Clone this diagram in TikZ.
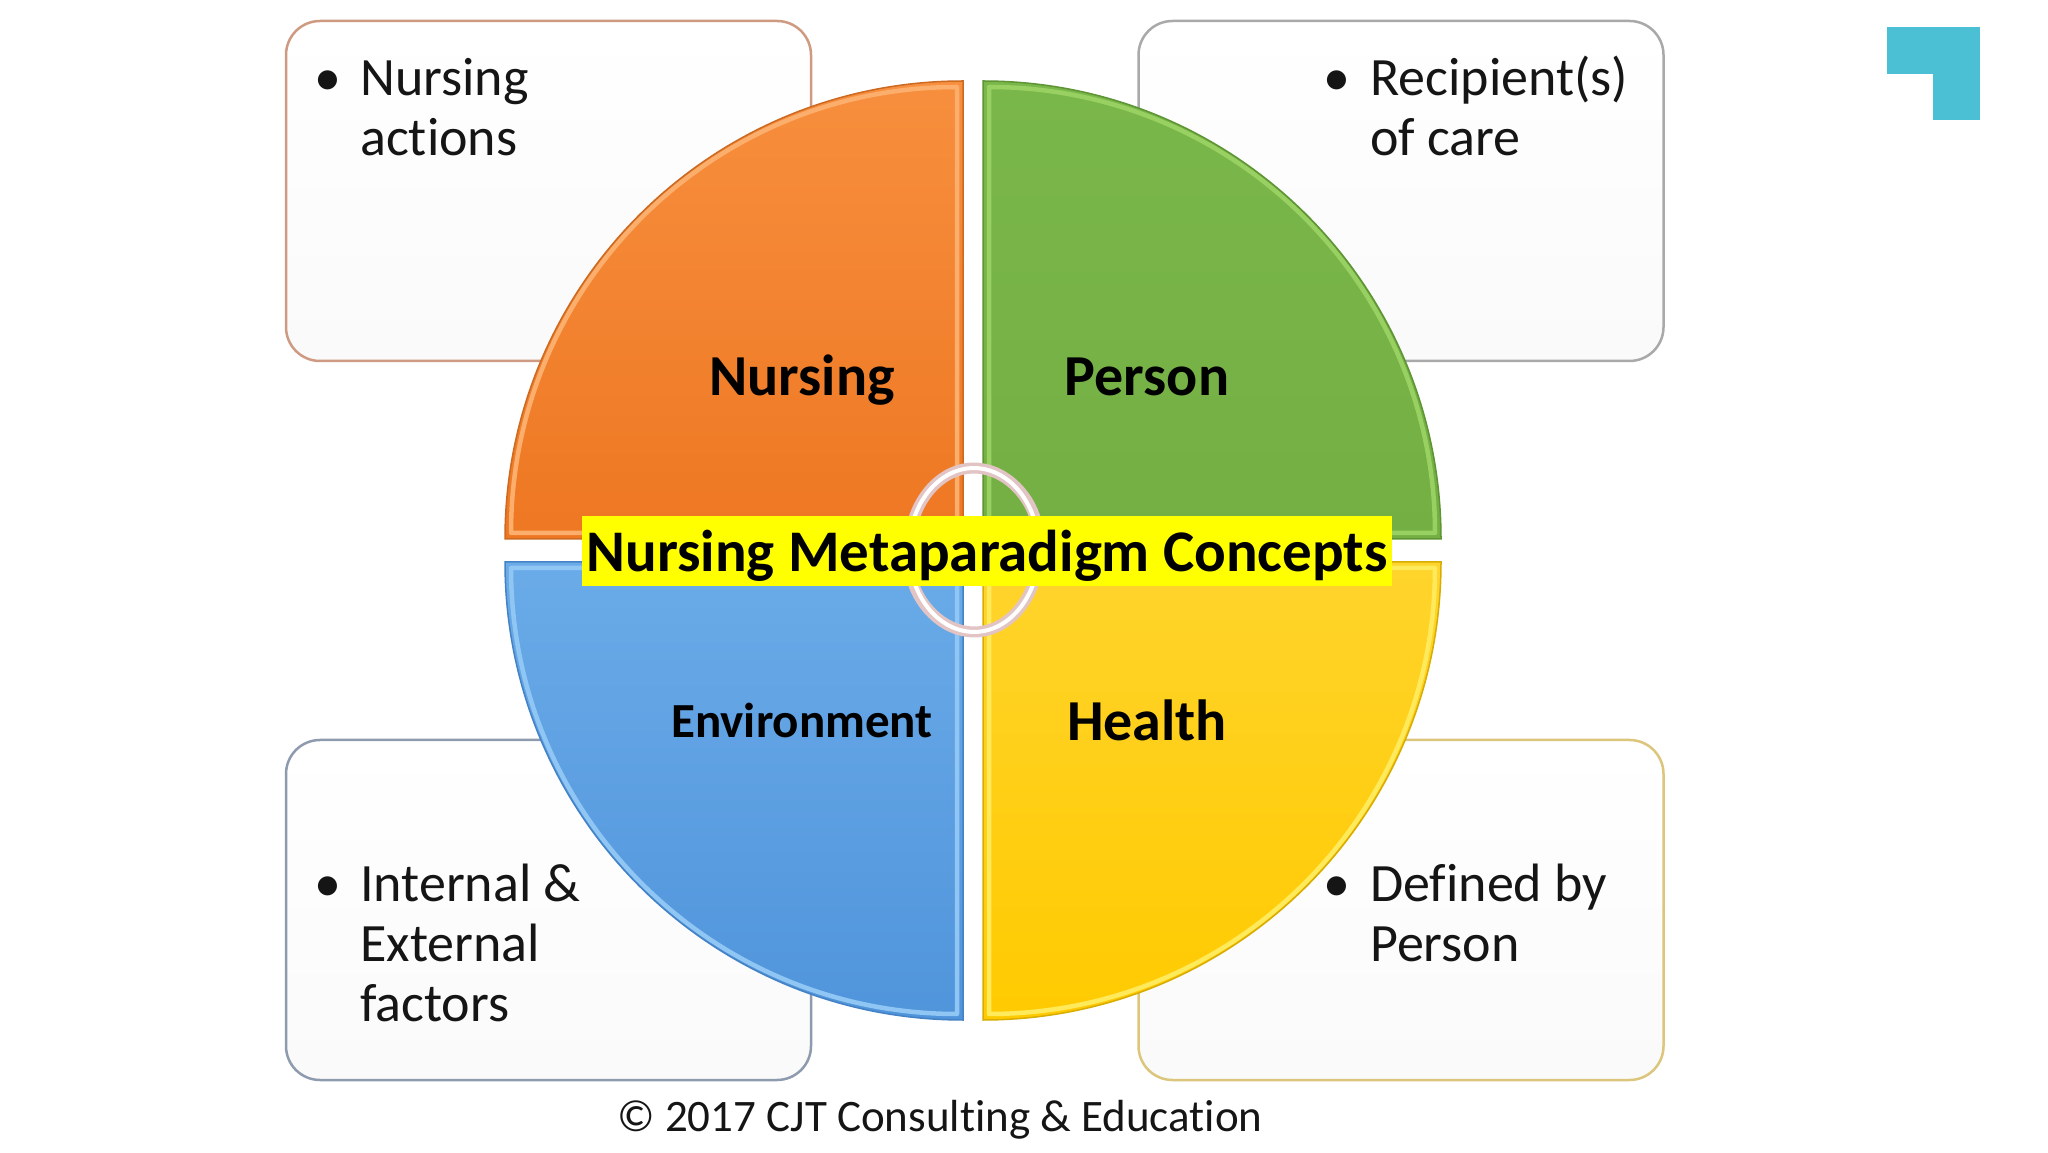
\documentclass[tikz,border=0pt]{standalone}
\usepackage{fontspec}
\setmainfont{Carlito}[Ligatures={NoCommon}]
\usetikzlibrary{arrows.meta}
\definecolor{orTop}{HTML}{F78F3E}
\definecolor{orBot}{HTML}{EE7722}
\definecolor{orRim}{HTML}{FCAE6C}
\definecolor{orLine}{HTML}{CC6A22}
\definecolor{grTop}{HTML}{7AB74A}
\definecolor{grBot}{HTML}{74AF44}
\definecolor{grRim}{HTML}{98D062}
\definecolor{grLine}{HTML}{5E9434}
\definecolor{blTop}{HTML}{6AABE8}
\definecolor{blBot}{HTML}{5094DB}
\definecolor{blRim}{HTML}{90C6F3}
\definecolor{blLine}{HTML}{4482C6}
\definecolor{yeTop}{HTML}{FFD42C}
\definecolor{yeBot}{HTML}{FFCA00}
\definecolor{yeRim}{HTML}{FFEA5C}
\definecolor{yeLine}{HTML}{D8AC00}
\definecolor{bTL}{HTML}{CF9A82}
\definecolor{bTR}{HTML}{A9A9A9}
\definecolor{bBL}{HTML}{8E9BAE}
\definecolor{bBR}{HTML}{DCC67C}
\definecolor{ringPink}{HTML}{E2C4C4}
\definecolor{titleYellow}{HTML}{FFFF00}
\definecolor{logoBlue}{HTML}{4BC0D5}
\definecolor{txt}{HTML}{151515}
\tikzset{
  infobox/.style={draw, line width=2.5pt, rounded corners=34pt, top color=white, bottom color=black!2,
    minimum width=525pt, minimum height=340pt, inner sep=0pt},
  boxtext/.style={font=\fontsize{54}{60}\selectfont, text=txt, inner sep=0pt},
  quadlabel/.style={font=\fontsize{58}{64}\selectfont\bfseries, text=black, inner sep=0pt, anchor=base},
  rim/.style={line width=4.5pt, line join=round},
  edge/.style={line width=1.5pt},
}
\begin{document}
\begin{tikzpicture}[x=1pt,y=1pt]
\useasboundingbox[fill=white] (0,0) rectangle (2048,1152);

% logo
\fill[logoBlue] (1887,1078) rectangle (1980,1125);
\fill[logoBlue] (1933,1032) rectangle (1980,1125);

% boxes
\node[infobox, draw=bTL] (tl) at (548.5,961) {};
\node[infobox, draw=bTR] (tr) at (1401,961) {};
\node[infobox, draw=bBL] (bl) at (548.5,242) {};
\node[infobox, draw=bBR] (br) at (1401,242) {};

% quadrants
\shade[top color=orTop, bottom color=orBot] (963,613) -- (505,613) arc[start angle=180, end angle=90, radius=458] -- cycle;
\draw[orRim, rim] (957,619) -- (511,619) arc[start angle=180, end angle=90, radius=446] -- cycle;
\draw[orLine, edge] (963,613) -- (505,613) arc[start angle=180, end angle=90, radius=458] -- cycle;

\shade[top color=grTop, bottom color=grBot] (983,613) -- (983,1071) arc[start angle=90, end angle=0, radius=458] -- cycle;
\draw[grRim, rim] (989,619) -- (989,1065) arc[start angle=90, end angle=0, radius=446] -- cycle;
\draw[grLine, edge] (983,613) -- (983,1071) arc[start angle=90, end angle=0, radius=458] -- cycle;

\shade[top color=blTop, bottom color=blBot] (963,590) -- (505,590) arc[start angle=180, end angle=270, radius=458] -- cycle;
\draw[blRim, rim] (957,584) -- (511,584) arc[start angle=180, end angle=270, radius=446] -- cycle;
\draw[blLine, edge] (963,590) -- (505,590) arc[start angle=180, end angle=270, radius=458] -- cycle;

\shade[top color=yeTop, bottom color=yeBot] (983,590) -- (983,132) arc[start angle=270, end angle=360, radius=458] -- cycle;
\draw[yeRim, rim] (989,584) -- (989,138) arc[start angle=270, end angle=360, radius=446] -- cycle;
\draw[yeLine, edge] (983,590) -- (983,132) arc[start angle=270, end angle=360, radius=458] -- cycle;

% circular arrows
\draw[ringPink, line width=11pt, -{Stealth[length=16pt,width=26pt]}] (909.2,609.1) arc[start angle=175, end angle=5, x radius=65, y radius=82];
\draw[white, line width=4pt] (909.2,609.1) arc[start angle=175, end angle=8, x radius=65, y radius=82];
\draw[ringPink, line width=11pt, -{Stealth[length=16pt,width=26pt]}] (1038.8,594.9) arc[start angle=-5, end angle=-175, x radius=65, y radius=82];
\draw[white, line width=4pt] (1038.8,594.9) arc[start angle=-5, end angle=-172, x radius=65, y radius=82];

% title
\node[fill=titleYellow, minimum width=810pt, minimum height=70pt, inner sep=0pt,
  text height=50pt, text depth=8pt, font=\fontsize{59}{64}\selectfont\bfseries] (title) at (987,601) {Nursing Metaparadigm Concepts};

% quadrant labels
\node[quadlabel] (nursing) at (802,756) {Nursing};
\node[quadlabel] (person) at (1147,756) {Person};
\node[quadlabel, font=\fontsize{49}{54}\selectfont\bfseries] (environment) at (802,414) {Environment};
\node[quadlabel] (health) at (1147,411) {Health};

% box texts
\node[boxtext, anchor=base] (tlb) at (328,1056) {\textbullet};
\node[boxtext, anchor=base west] (tlt) at (360,1056) {\begin{tabular}[t]{@{}l@{}}Nursing\\actions\end{tabular}};
\node[boxtext, anchor=base] (trb) at (1337,1056) {\textbullet};
\node[boxtext, anchor=base west] (trt) at (1370,1056) {\begin{tabular}[t]{@{}l@{}}Recipient(s)\\of care\end{tabular}};
\node[boxtext, anchor=base] (blb) at (328,251) {\textbullet};
\node[boxtext, anchor=base west] (blt) at (360,251) {\begin{tabular}[t]{@{}l@{}}Internal \&\\External\\factors\end{tabular}};
\node[boxtext, anchor=base] (brb) at (1337,251) {\textbullet};
\node[boxtext, anchor=base west] (brt) at (1370,251) {\begin{tabular}[t]{@{}l@{}}Defined by\\Person\end{tabular}};

% copyright
\node[font=\fontsize{45}{50}\selectfont, text=txt, anchor=base, inner sep=0pt] (copy) at (940,21) {\textcopyright{} 2017 CJT Consulting \& Education};
\end{tikzpicture}
\end{document}
